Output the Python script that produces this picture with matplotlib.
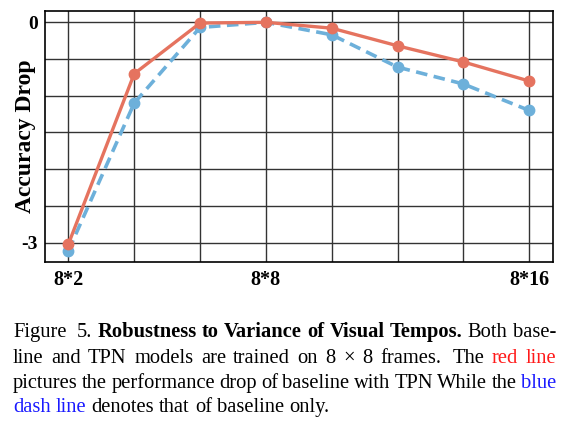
import matplotlib
matplotlib.use("Agg")
import matplotlib.pyplot as plt
import numpy as np

# Data
x_vals = [2, 4, 6, 8, 10, 12, 14, 16]
tpn_drop = [-3.02, -0.70, -0.01, 0.0, -0.08, -0.32, -0.54, -0.80]
base_drop = [-3.11, -1.10, -0.07, 0.0, -0.17, -0.61, -0.84, -1.20]
x_tick_pos = [2, 4, 6, 8, 10, 12, 14, 16]
x_tick_labels = ["8*2", "", "", "8*8", "", "", "", "8*16"]
y_tick_pos = [-3.0, -2.5, -2.0, -1.5, -1.0, -0.5, 0.0]
y_tick_labels = ["-3", "", "", "", "", "", "0"]

RED = "#E5735F"
BLUE = "#6DB0DA"
W, H = 565, 423

plt.rcParams['font.family'] = ['Liberation Serif', 'DejaVu Serif']
fig = plt.figure(figsize=(W / 100, H / 100), dpi=100)
ax = fig.add_axes([45 / W, 1 - 262 / H, (553 - 45) / W, (262 - 11) / H])

ax.plot(x_vals, base_drop, color=BLUE, lw=2.6, ls=(0, (3.2, 1.8)), marker='o', ms=7.5, zorder=3)
ax.plot(x_vals, tpn_drop, color=RED, lw=2.4, marker='o', ms=7.5, zorder=4)

ax.set_xlim(1.29, 16.72)
ax.set_ylim(-3.263, 0.154)
ax.set_xticks(x_tick_pos)
ax.set_xticklabels(x_tick_labels, fontsize=14.5, fontweight='bold')
ax.set_yticks(y_tick_pos)
ax.set_yticklabels(y_tick_labels, fontsize=14, fontweight='bold')
ax.tick_params(axis='x', length=0, pad=6)
ax.tick_params(axis='y', length=0, pad=5)
ax.grid(True, color='#333333', lw=1.0)
ax.set_axisbelow(True)
for s in ax.spines.values():
    s.set_color('black')
    s.set_linewidth(1.2)
ax.set_ylabel("Accuracy Drop", fontsize=17, fontweight='bold')
ax.yaxis.set_label_coords(-9 / 508, 0.5)

# Caption (justified)
FS = 14.8
lines = [
    [("Figure 5.", 'normal', 'black'), ("Robustness to Variance of Visual Tempos.", 'bold', 'black'),
     ("Both base-", 'normal', 'black')],
    [("line and TPN models are trained on 8 \u00d7 8 frames.", 'normal', 'black'), ("The", 'normal', 'black'),
     ("red line", 'normal', '#FF1A1A')],
    [("pictures the performance drop of baseline with TPN While the", 'normal', 'black'),
     ("blue", 'normal', '#1A1AFF')],
    [("dash line", 'normal', '#1A1AFF'), ("denotes that of baseline only.", 'normal', 'black')],
]
baselines = [337.3, 362.7, 387.7, 411.7]
left, right = 13, 556
renderer = fig.canvas.get_renderer()

for li, (segs, yb) in enumerate(zip(lines, baselines)):
    words = []
    for txt, wt, col in segs:
        for w in txt.split(" "):
            words.append((w, wt, col))
    objs = []
    widths = []
    for w, wt, col in words:
        t = fig.text(0, 1 - yb / H, w, fontsize=FS, fontweight=wt, color=col, va='baseline', ha='left')
        objs.append(t)
        widths.append(t.get_window_extent(renderer).width)
    last = (li == len(lines) - 1)
    extra = [0.0] * len(words)
    if li == 0:
        extra[1] = 5.0
    if li == 1:
        idx = [i for i, (w, _, _) in enumerate(words) if w == "frames."][0]
        extra[idx + 1] = 4.0
    if last:
        gap = FS * 0.25 * 100 / 72
    else:
        gap = (right - left - sum(widths) - sum(extra)) / (len(words) - 1)
    xpos = left
    for i, t in enumerate(objs):
        xpos += extra[i]
        t.set_x(xpos / W)
        xpos += widths[i] + gap

fig.savefig("out.png", dpi=100)
